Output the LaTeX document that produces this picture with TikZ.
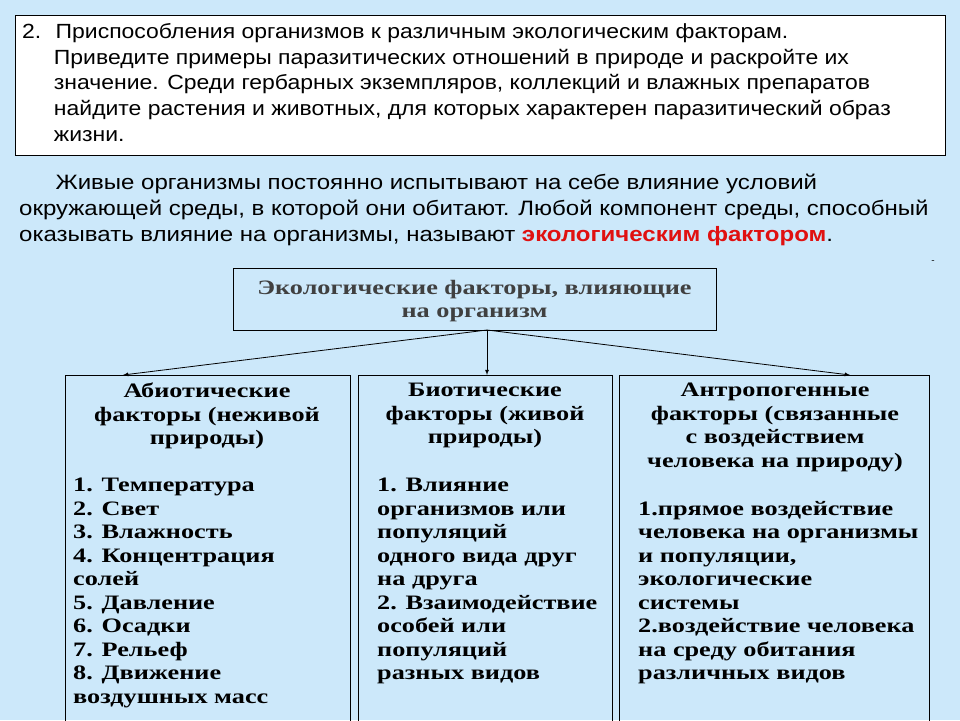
\documentclass[tikz,border=0pt]{standalone}
\usepackage{fontspec}
\setmainfont{Liberation Serif}[FakeStretch=1.28]
\newfontfamily\arial{Liberation Sans}[FakeStretch=1.12]
\newfontfamily\arialwide{Liberation Sans}[FakeStretch=1.155]
\usetikzlibrary{positioning}
\definecolor{bgblue}{HTML}{CCE8FA}
\definecolor{redterm}{HTML}{E01010}
\tikzset{
  factorbox/.style={draw,line width=0.8pt},
  boxtext/.style={inner sep=0pt,align=left,anchor=north west,
    font=\fontsize{20.5}{23.5}\selectfont\bfseries},
  headtext/.style={inner sep=0pt,align=center,anchor=north,
    font=\fontsize{20.5}{23.5}\selectfont\bfseries},
  link/.style={-latex,line width=0.8pt}
}
\begin{document}
\begin{tikzpicture}[x=1pt,y=-1pt]
            % Background
            \fill[bgblue] (0,0) rectangle (960,720);
            \useasboundingbox (0,0) rectangle (960,720);
            % Task box
            \draw[fill=white,line width=0.6pt] (15,15) rectangle (945,155);
            \node[inner sep=0pt,anchor=north west,align=left,
              font=\arial\fontsize{20.5}{25.8}\selectfont] (task) at (22,23)
              {2.\hspace{0.7em}Приспособления организмов к различным экологическим факторам.\\
              \hspace{1.55em}Приведите примеры паразитических отношений в природе и раскройте их\\
              \hspace{1.55em}значение. Среди гербарных экземпляров, коллекций и влажных препаратов\\
              \hspace{1.55em}найдите растения и животных, для которых характерен паразитический образ\\
              \hspace{1.55em}жизни.};
            % Paragraph
            \node[inner sep=0pt,anchor=north west,align=left,
              font=\arialwide\fontsize{20.8}{26}\selectfont] (intro) at (19,174)
              {\hspace{1.75em}Живые организмы постоянно испытывают на себе влияние условий\\
              окружающей среды, в которой они обитают. Любой компонент среды, способный\\
              оказывать влияние на организмы, называют \textcolor{redterm}{\textbf{экологическим фактором}}.};
            \node[inner sep=0pt,font=\arial\small] (dash) at (933,262) {-};
            % Boxes
            \node[factorbox,minimum width=483pt,minimum height=62pt,anchor=north west,
              inner sep=0pt] (main) at (233,268) {};
            \node[headtext,text=black!75] at (474.5,280)
              {Экологические факторы, влияющие\\на организм};
            \node[factorbox,minimum width=285pt,minimum height=350pt,anchor=north west,
              inner sep=0pt] (abio) at (65,375) {};
            \node[factorbox,minimum width=254pt,minimum height=350pt,anchor=north west,
              inner sep=0pt] (bio) at (358,375) {};
            \node[factorbox,minimum width=310pt,minimum height=350pt,anchor=north west,
              inner sep=0pt] (anthro) at (619,375) {};
            % Arrows
            \coordinate (fork) at (487,330);
            \coordinate (abioin) at (123,375);
            \coordinate (bioin) at (487,375);
            \coordinate (anthroin) at (850,375);
            \draw[link] (fork) -- (abioin);
            \draw[link] (fork) -- (bioin);
            \draw[link] (fork) -- (anthroin);
            % Headings
            \node[headtext] (abiohead) at (207,383) {Абиотические\\факторы (неживой\\природы)};
            \node[headtext] (biohead) at (485,383) {Биотические\\факторы (живой\\природы)};
            \node[headtext] (anthrohead) at (775,383)
              {Антропогенные\\факторы (связанные\\с воздействием\\человека на природу)};
            % Lists
            \node[boxtext] (abiolist) at (73,478)
              {1. Температура\\2. Свет\\3. Влажность\\4. Концентрация\\солей\\5. Давление\\
              6. Осадки\\7. Рельеф\\8. Движение\\воздушных масс};
            \node[boxtext] (biolist) at (377,478)
              {1. Влияние\\организмов или\\популяций\\одного вида друг\\на друга\\
              2. Взаимодействие\\особей или\\популяций\\разных видов};
            \node[boxtext] (anthrolist) at (638,501)
              {1.прямое воздействие\\человека на организмы\\и популяции,\\экологические\\
              системы\\2.воздействие человека\\на среду обитания\\различных видов};
\end{tikzpicture}
\end{document}
